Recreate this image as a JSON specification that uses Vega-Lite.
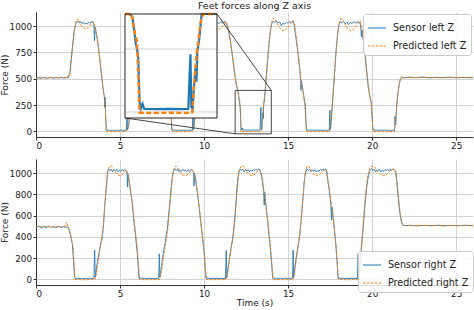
{
"$schema": "https://vega.github.io/schema/vega-lite/v6.json",
"padding": 0,
"background": "white",
"config": {
  "font": "DejaVu Sans",
  "view": {"stroke": null},
  "axis": {"labelFontSize": 8.8, "labelColor": "#222", "titleFontSize": 9, "titleFontWeight": "normal", "titleColor": "#222", "domainColor": "#333", "tickColor": "#333", "tickSize": 3, "gridColor": "#c8c8c8", "gridWidth": 0.8, "labelPadding": 1.5, "titlePadding": 0, "format": "d"},
  "legend": {"labelFontSize": 9.6, "labelColor": "#222", "symbolType": "stroke", "symbolSize": 324, "symbolStrokeWidth": 1.2, "fillColor": "rgba(255,255,255,0.85)", "strokeColor": "#cccccc", "cornerRadius": 3, "padding": 4, "rowPadding": 3, "labelOffset": 6, "title": null},
  "title": {"fontSize": 9.5, "fontWeight": "normal", "color": "#222"}
},
"datasets": {
"left": [
{"t":0.00,"f":503,"s":"Sensor left Z"},{"t":0.15,"f":510,"s":"Sensor left Z"},{"t":0.30,"f":506,"s":"Sensor left Z"},{"t":0.45,"f":513,"s":"Sensor left Z"},{"t":0.60,"f":504,"s":"Sensor left Z"},{"t":0.75,"f":509,"s":"Sensor left Z"},{"t":0.90,"f":512,"s":"Sensor left Z"},{"t":1.05,"f":505,"s":"Sensor left Z"},{"t":1.20,"f":511,"s":"Sensor left Z"},{"t":1.35,"f":507,"s":"Sensor left Z"},{"t":1.50,"f":514,"s":"Sensor left Z"},{"t":1.65,"f":506,"s":"Sensor left Z"},{"t":1.80,"f":510,"s":"Sensor left Z"},{"t":1.92,"f":512,"s":"Sensor left Z"},{"t":2.02,"f":560,"s":"Sensor left Z"},{"t":2.10,"f":690,"s":"Sensor left Z"},{"t":2.18,"f":820,"s":"Sensor left Z"},{"t":2.26,"f":940,"s":"Sensor left Z"},{"t":2.34,"f":1005,"s":"Sensor left Z"},{"t":2.42,"f":1040,"s":"Sensor left Z"},{"t":2.50,"f":1048,"s":"Sensor left Z"},{"t":2.58,"f":1030,"s":"Sensor left Z"},{"t":2.66,"f":1042,"s":"Sensor left Z"},{"t":2.74,"f":1025,"s":"Sensor left Z"},{"t":2.82,"f":1035,"s":"Sensor left Z"},{"t":2.90,"f":1018,"s":"Sensor left Z"},{"t":2.98,"f":1030,"s":"Sensor left Z"},{"t":3.06,"f":1022,"s":"Sensor left Z"},{"t":3.14,"f":1036,"s":"Sensor left Z"},{"t":3.22,"f":1028,"s":"Sensor left Z"},{"t":3.30,"f":1040,"s":"Sensor left Z"},{"t":3.38,"f":1045,"s":"Sensor left Z"},{"t":3.44,"f":1020,"s":"Sensor left Z"},{"t":3.48,"f":860,"s":"Sensor left Z"},{"t":3.52,"f":990,"s":"Sensor left Z"},{"t":3.56,"f":960,"s":"Sensor left Z"},{"t":3.64,"f":880,"s":"Sensor left Z"},{"t":3.74,"f":760,"s":"Sensor left Z"},{"t":3.84,"f":620,"s":"Sensor left Z"},{"t":3.94,"f":470,"s":"Sensor left Z"},{"t":4.02,"f":370,"s":"Sensor left Z"},{"t":4.07,"f":330,"s":"Sensor left Z"},{"t":4.09,"f":230,"s":"Sensor left Z"},{"t":4.11,"f":320,"s":"Sensor left Z"},{"t":4.14,"f":160,"s":"Sensor left Z"},{"t":4.18,"f":12,"s":"Sensor left Z"},{"t":4.40,"f":10,"s":"Sensor left Z"},{"t":4.70,"f":8,"s":"Sensor left Z"},{"t":5.00,"f":11,"s":"Sensor left Z"},{"t":5.30,"f":9,"s":"Sensor left Z"},{"t":5.38,"f":12,"s":"Sensor left Z"},{"t":5.42,"f":170,"s":"Sensor left Z"},{"t":5.45,"f":15,"s":"Sensor left Z"},{"t":5.52,"f":60,"s":"Sensor left Z"},{"t":5.58,"f":160,"s":"Sensor left Z"},{"t":5.64,"f":250,"s":"Sensor left Z"},{"t":5.72,"f":380,"s":"Sensor left Z"},{"t":5.82,"f":560,"s":"Sensor left Z"},{"t":5.92,"f":740,"s":"Sensor left Z"},{"t":6.02,"f":880,"s":"Sensor left Z"},{"t":6.12,"f":980,"s":"Sensor left Z"},{"t":6.22,"f":1030,"s":"Sensor left Z"},{"t":6.32,"f":1045,"s":"Sensor left Z"},{"t":6.42,"f":1025,"s":"Sensor left Z"},{"t":6.52,"f":1040,"s":"Sensor left Z"},{"t":6.62,"f":1020,"s":"Sensor left Z"},{"t":6.72,"f":1035,"s":"Sensor left Z"},{"t":6.82,"f":1015,"s":"Sensor left Z"},{"t":6.92,"f":1030,"s":"Sensor left Z"},{"t":7.02,"f":1025,"s":"Sensor left Z"},{"t":7.12,"f":1040,"s":"Sensor left Z"},{"t":7.22,"f":1030,"s":"Sensor left Z"},{"t":7.32,"f":1042,"s":"Sensor left Z"},{"t":7.38,"f":1010,"s":"Sensor left Z"},{"t":7.44,"f":900,"s":"Sensor left Z"},{"t":7.52,"f":960,"s":"Sensor left Z"},{"t":7.60,"f":830,"s":"Sensor left Z"},{"t":7.70,"f":680,"s":"Sensor left Z"},{"t":7.80,"f":520,"s":"Sensor left Z"},{"t":7.90,"f":380,"s":"Sensor left Z"},{"t":7.98,"f":300,"s":"Sensor left Z"},{"t":8.04,"f":160,"s":"Sensor left Z"},{"t":8.08,"f":12,"s":"Sensor left Z"},{"t":8.40,"f":10,"s":"Sensor left Z"},{"t":8.80,"f":9,"s":"Sensor left Z"},{"t":9.20,"f":11,"s":"Sensor left Z"},{"t":9.30,"f":10,"s":"Sensor left Z"},{"t":9.34,"f":190,"s":"Sensor left Z"},{"t":9.37,"f":14,"s":"Sensor left Z"},{"t":9.42,"f":80,"s":"Sensor left Z"},{"t":9.48,"f":150,"s":"Sensor left Z"},{"t":9.55,"f":250,"s":"Sensor left Z"},{"t":9.62,"f":330,"s":"Sensor left Z"},{"t":9.70,"f":480,"s":"Sensor left Z"},{"t":9.80,"f":660,"s":"Sensor left Z"},{"t":9.90,"f":840,"s":"Sensor left Z"},{"t":10.00,"f":960,"s":"Sensor left Z"},{"t":10.10,"f":1020,"s":"Sensor left Z"},{"t":10.20,"f":1045,"s":"Sensor left Z"},{"t":10.30,"f":1028,"s":"Sensor left Z"},{"t":10.40,"f":1040,"s":"Sensor left Z"},{"t":10.50,"f":1022,"s":"Sensor left Z"},{"t":10.60,"f":1036,"s":"Sensor left Z"},{"t":10.70,"f":1020,"s":"Sensor left Z"},{"t":10.80,"f":1032,"s":"Sensor left Z"},{"t":10.90,"f":1025,"s":"Sensor left Z"},{"t":11.00,"f":1040,"s":"Sensor left Z"},{"t":11.10,"f":1030,"s":"Sensor left Z"},{"t":11.20,"f":1045,"s":"Sensor left Z"},{"t":11.30,"f":1035,"s":"Sensor left Z"},{"t":11.38,"f":1000,"s":"Sensor left Z"},{"t":11.45,"f":960,"s":"Sensor left Z"},{"t":11.55,"f":870,"s":"Sensor left Z"},{"t":11.65,"f":760,"s":"Sensor left Z"},{"t":11.75,"f":640,"s":"Sensor left Z"},{"t":11.85,"f":510,"s":"Sensor left Z"},{"t":11.95,"f":420,"s":"Sensor left Z"},{"t":12.02,"f":380,"s":"Sensor left Z"},{"t":12.07,"f":320,"s":"Sensor left Z"},{"t":12.10,"f":275,"s":"Sensor left Z"},{"t":12.14,"f":240,"s":"Sensor left Z"},{"t":12.16,"f":215,"s":"Sensor left Z"},{"t":12.19,"f":40,"s":"Sensor left Z"},{"t":12.22,"f":14,"s":"Sensor left Z"},{"t":12.26,"f":32,"s":"Sensor left Z"},{"t":12.30,"f":12,"s":"Sensor left Z"},{"t":12.60,"f":11,"s":"Sensor left Z"},{"t":12.90,"f":12,"s":"Sensor left Z"},{"t":13.20,"f":11,"s":"Sensor left Z"},{"t":13.33,"f":12,"s":"Sensor left Z"},{"t":13.36,"f":150,"s":"Sensor left Z"},{"t":13.38,"f":229,"s":"Sensor left Z"},{"t":13.40,"f":20,"s":"Sensor left Z"},{"t":13.43,"f":12,"s":"Sensor left Z"},{"t":13.46,"f":96,"s":"Sensor left Z"},{"t":13.50,"f":176,"s":"Sensor left Z"},{"t":13.52,"f":120,"s":"Sensor left Z"},{"t":13.54,"f":242,"s":"Sensor left Z"},{"t":13.58,"f":282,"s":"Sensor left Z"},{"t":13.61,"f":334,"s":"Sensor left Z"},{"t":13.64,"f":390,"s":"Sensor left Z"},{"t":13.70,"f":520,"s":"Sensor left Z"},{"t":13.78,"f":680,"s":"Sensor left Z"},{"t":13.86,"f":830,"s":"Sensor left Z"},{"t":13.94,"f":950,"s":"Sensor left Z"},{"t":14.02,"f":1020,"s":"Sensor left Z"},{"t":14.10,"f":1045,"s":"Sensor left Z"},{"t":14.20,"f":1035,"s":"Sensor left Z"},{"t":14.30,"f":1048,"s":"Sensor left Z"},{"t":14.40,"f":1030,"s":"Sensor left Z"},{"t":14.50,"f":1040,"s":"Sensor left Z"},{"t":14.60,"f":1005,"s":"Sensor left Z"},{"t":14.70,"f":1030,"s":"Sensor left Z"},{"t":14.80,"f":1020,"s":"Sensor left Z"},{"t":14.90,"f":1035,"s":"Sensor left Z"},{"t":15.00,"f":1028,"s":"Sensor left Z"},{"t":15.10,"f":1042,"s":"Sensor left Z"},{"t":15.20,"f":1035,"s":"Sensor left Z"},{"t":15.30,"f":1045,"s":"Sensor left Z"},{"t":15.36,"f":1010,"s":"Sensor left Z"},{"t":15.42,"f":940,"s":"Sensor left Z"},{"t":15.50,"f":850,"s":"Sensor left Z"},{"t":15.60,"f":720,"s":"Sensor left Z"},{"t":15.70,"f":580,"s":"Sensor left Z"},{"t":15.75,"f":470,"s":"Sensor left Z"},{"t":15.77,"f":390,"s":"Sensor left Z"},{"t":15.79,"f":480,"s":"Sensor left Z"},{"t":15.85,"f":420,"s":"Sensor left Z"},{"t":15.95,"f":320,"s":"Sensor left Z"},{"t":16.02,"f":250,"s":"Sensor left Z"},{"t":16.06,"f":100,"s":"Sensor left Z"},{"t":16.09,"f":12,"s":"Sensor left Z"},{"t":16.40,"f":10,"s":"Sensor left Z"},{"t":16.80,"f":11,"s":"Sensor left Z"},{"t":17.20,"f":9,"s":"Sensor left Z"},{"t":17.45,"f":10,"s":"Sensor left Z"},{"t":17.49,"f":200,"s":"Sensor left Z"},{"t":17.52,"f":15,"s":"Sensor left Z"},{"t":17.57,"f":100,"s":"Sensor left Z"},{"t":17.63,"f":250,"s":"Sensor left Z"},{"t":17.70,"f":420,"s":"Sensor left Z"},{"t":17.78,"f":600,"s":"Sensor left Z"},{"t":17.86,"f":780,"s":"Sensor left Z"},{"t":17.94,"f":920,"s":"Sensor left Z"},{"t":18.02,"f":1010,"s":"Sensor left Z"},{"t":18.10,"f":1042,"s":"Sensor left Z"},{"t":18.20,"f":1030,"s":"Sensor left Z"},{"t":18.30,"f":1045,"s":"Sensor left Z"},{"t":18.40,"f":1022,"s":"Sensor left Z"},{"t":18.50,"f":1038,"s":"Sensor left Z"},{"t":18.60,"f":1015,"s":"Sensor left Z"},{"t":18.70,"f":1035,"s":"Sensor left Z"},{"t":18.80,"f":1025,"s":"Sensor left Z"},{"t":18.90,"f":1040,"s":"Sensor left Z"},{"t":19.00,"f":1030,"s":"Sensor left Z"},{"t":19.10,"f":1042,"s":"Sensor left Z"},{"t":19.20,"f":1035,"s":"Sensor left Z"},{"t":19.28,"f":1030,"s":"Sensor left Z"},{"t":19.33,"f":980,"s":"Sensor left Z"},{"t":19.36,"f":900,"s":"Sensor left Z"},{"t":19.40,"f":960,"s":"Sensor left Z"},{"t":19.48,"f":860,"s":"Sensor left Z"},{"t":19.58,"f":720,"s":"Sensor left Z"},{"t":19.68,"f":560,"s":"Sensor left Z"},{"t":19.78,"f":410,"s":"Sensor left Z"},{"t":19.88,"f":320,"s":"Sensor left Z"},{"t":19.95,"f":270,"s":"Sensor left Z"},{"t":20.00,"f":120,"s":"Sensor left Z"},{"t":20.05,"f":12,"s":"Sensor left Z"},{"t":20.40,"f":10,"s":"Sensor left Z"},{"t":20.80,"f":11,"s":"Sensor left Z"},{"t":21.20,"f":9,"s":"Sensor left Z"},{"t":21.33,"f":10,"s":"Sensor left Z"},{"t":21.36,"f":140,"s":"Sensor left Z"},{"t":21.40,"f":60,"s":"Sensor left Z"},{"t":21.45,"f":230,"s":"Sensor left Z"},{"t":21.52,"f":350,"s":"Sensor left Z"},{"t":21.60,"f":440,"s":"Sensor left Z"},{"t":21.68,"f":495,"s":"Sensor left Z"},{"t":21.76,"f":512,"s":"Sensor left Z"},{"t":21.90,"f":508,"s":"Sensor left Z"},{"t":22.20,"f":514,"s":"Sensor left Z"},{"t":22.60,"f":510,"s":"Sensor left Z"},{"t":23.00,"f":515,"s":"Sensor left Z"},{"t":23.40,"f":509,"s":"Sensor left Z"},{"t":23.80,"f":513,"s":"Sensor left Z"},{"t":24.20,"f":510,"s":"Sensor left Z"},{"t":24.60,"f":514,"s":"Sensor left Z"},{"t":25.00,"f":509,"s":"Sensor left Z"},{"t":25.40,"f":512,"s":"Sensor left Z"},{"t":25.80,"f":510,"s":"Sensor left Z"},{"t":26.00,"f":511,"s":"Sensor left Z"},
{"t":0.00,"f":505,"s":"Predicted left Z"},{"t":0.50,"f":508,"s":"Predicted left Z"},{"t":1.00,"f":510,"s":"Predicted left Z"},{"t":1.50,"f":509,"s":"Predicted left Z"},{"t":1.80,"f":512,"s":"Predicted left Z"},{"t":1.92,"f":530,"s":"Predicted left Z"},{"t":2.00,"f":520,"s":"Predicted left Z"},{"t":2.08,"f":650,"s":"Predicted left Z"},{"t":2.18,"f":800,"s":"Predicted left Z"},{"t":2.28,"f":950,"s":"Predicted left Z"},{"t":2.38,"f":1050,"s":"Predicted left Z"},{"t":2.48,"f":1070,"s":"Predicted left Z"},{"t":2.60,"f":1040,"s":"Predicted left Z"},{"t":2.75,"f":990,"s":"Predicted left Z"},{"t":2.90,"f":975,"s":"Predicted left Z"},{"t":3.05,"f":980,"s":"Predicted left Z"},{"t":3.20,"f":1000,"s":"Predicted left Z"},{"t":3.35,"f":1040,"s":"Predicted left Z"},{"t":3.45,"f":1030,"s":"Predicted left Z"},{"t":3.55,"f":960,"s":"Predicted left Z"},{"t":3.65,"f":880,"s":"Predicted left Z"},{"t":3.75,"f":760,"s":"Predicted left Z"},{"t":3.85,"f":620,"s":"Predicted left Z"},{"t":3.95,"f":470,"s":"Predicted left Z"},{"t":4.04,"f":350,"s":"Predicted left Z"},{"t":4.10,"f":280,"s":"Predicted left Z"},{"t":4.15,"f":120,"s":"Predicted left Z"},{"t":4.20,"f":-5,"s":"Predicted left Z"},{"t":4.60,"f":-3,"s":"Predicted left Z"},{"t":5.00,"f":-4,"s":"Predicted left Z"},{"t":5.35,"f":-3,"s":"Predicted left Z"},{"t":5.45,"f":40,"s":"Predicted left Z"},{"t":5.55,"f":130,"s":"Predicted left Z"},{"t":5.65,"f":260,"s":"Predicted left Z"},{"t":5.75,"f":420,"s":"Predicted left Z"},{"t":5.85,"f":600,"s":"Predicted left Z"},{"t":5.95,"f":780,"s":"Predicted left Z"},{"t":6.05,"f":920,"s":"Predicted left Z"},{"t":6.15,"f":1020,"s":"Predicted left Z"},{"t":6.25,"f":1065,"s":"Predicted left Z"},{"t":6.38,"f":1060,"s":"Predicted left Z"},{"t":6.55,"f":1000,"s":"Predicted left Z"},{"t":6.75,"f":965,"s":"Predicted left Z"},{"t":6.95,"f":975,"s":"Predicted left Z"},{"t":7.15,"f":1010,"s":"Predicted left Z"},{"t":7.30,"f":1045,"s":"Predicted left Z"},{"t":7.40,"f":1020,"s":"Predicted left Z"},{"t":7.50,"f":940,"s":"Predicted left Z"},{"t":7.60,"f":830,"s":"Predicted left Z"},{"t":7.70,"f":680,"s":"Predicted left Z"},{"t":7.80,"f":520,"s":"Predicted left Z"},{"t":7.90,"f":390,"s":"Predicted left Z"},{"t":7.98,"f":290,"s":"Predicted left Z"},{"t":8.05,"f":120,"s":"Predicted left Z"},{"t":8.10,"f":-4,"s":"Predicted left Z"},{"t":8.60,"f":-3,"s":"Predicted left Z"},{"t":9.00,"f":-4,"s":"Predicted left Z"},{"t":9.30,"f":-3,"s":"Predicted left Z"},{"t":9.40,"f":60,"s":"Predicted left Z"},{"t":9.50,"f":180,"s":"Predicted left Z"},{"t":9.60,"f":320,"s":"Predicted left Z"},{"t":9.70,"f":480,"s":"Predicted left Z"},{"t":9.80,"f":660,"s":"Predicted left Z"},{"t":9.90,"f":840,"s":"Predicted left Z"},{"t":10.00,"f":970,"s":"Predicted left Z"},{"t":10.10,"f":1050,"s":"Predicted left Z"},{"t":10.20,"f":1070,"s":"Predicted left Z"},{"t":10.35,"f":1040,"s":"Predicted left Z"},{"t":10.55,"f":990,"s":"Predicted left Z"},{"t":10.75,"f":960,"s":"Predicted left Z"},{"t":10.95,"f":975,"s":"Predicted left Z"},{"t":11.15,"f":1010,"s":"Predicted left Z"},{"t":11.30,"f":1045,"s":"Predicted left Z"},{"t":11.40,"f":1010,"s":"Predicted left Z"},{"t":11.50,"f":920,"s":"Predicted left Z"},{"t":11.60,"f":820,"s":"Predicted left Z"},{"t":11.70,"f":700,"s":"Predicted left Z"},{"t":11.80,"f":570,"s":"Predicted left Z"},{"t":11.90,"f":460,"s":"Predicted left Z"},{"t":12.00,"f":390,"s":"Predicted left Z"},{"t":12.06,"f":330,"s":"Predicted left Z"},{"t":12.10,"f":300,"s":"Predicted left Z"},{"t":12.13,"f":280,"s":"Predicted left Z"},{"t":12.16,"f":150,"s":"Predicted left Z"},{"t":12.19,"f":-3,"s":"Predicted left Z"},{"t":12.50,"f":-4,"s":"Predicted left Z"},{"t":12.90,"f":-3,"s":"Predicted left Z"},{"t":13.30,"f":-4,"s":"Predicted left Z"},{"t":13.42,"f":-2,"s":"Predicted left Z"},{"t":13.47,"f":120,"s":"Predicted left Z"},{"t":13.52,"f":230,"s":"Predicted left Z"},{"t":13.57,"f":290,"s":"Predicted left Z"},{"t":13.62,"f":360,"s":"Predicted left Z"},{"t":13.68,"f":470,"s":"Predicted left Z"},{"t":13.76,"f":640,"s":"Predicted left Z"},{"t":13.86,"f":820,"s":"Predicted left Z"},{"t":13.96,"f":980,"s":"Predicted left Z"},{"t":14.06,"f":1060,"s":"Predicted left Z"},{"t":14.16,"f":1075,"s":"Predicted left Z"},{"t":14.30,"f":1040,"s":"Predicted left Z"},{"t":14.50,"f":985,"s":"Predicted left Z"},{"t":14.70,"f":955,"s":"Predicted left Z"},{"t":14.90,"f":970,"s":"Predicted left Z"},{"t":15.10,"f":1010,"s":"Predicted left Z"},{"t":15.28,"f":1055,"s":"Predicted left Z"},{"t":15.38,"f":1020,"s":"Predicted left Z"},{"t":15.48,"f":910,"s":"Predicted left Z"},{"t":15.58,"f":780,"s":"Predicted left Z"},{"t":15.68,"f":620,"s":"Predicted left Z"},{"t":15.78,"f":480,"s":"Predicted left Z"},{"t":15.88,"f":370,"s":"Predicted left Z"},{"t":15.98,"f":270,"s":"Predicted left Z"},{"t":16.05,"f":110,"s":"Predicted left Z"},{"t":16.10,"f":-4,"s":"Predicted left Z"},{"t":16.60,"f":-3,"s":"Predicted left Z"},{"t":17.00,"f":-4,"s":"Predicted left Z"},{"t":17.45,"f":-3,"s":"Predicted left Z"},{"t":17.55,"f":110,"s":"Predicted left Z"},{"t":17.65,"f":280,"s":"Predicted left Z"},{"t":17.75,"f":520,"s":"Predicted left Z"},{"t":17.85,"f":740,"s":"Predicted left Z"},{"t":17.95,"f":920,"s":"Predicted left Z"},{"t":18.05,"f":1040,"s":"Predicted left Z"},{"t":18.15,"f":1075,"s":"Predicted left Z"},{"t":18.30,"f":1045,"s":"Predicted left Z"},{"t":18.50,"f":985,"s":"Predicted left Z"},{"t":18.70,"f":955,"s":"Predicted left Z"},{"t":18.90,"f":970,"s":"Predicted left Z"},{"t":19.10,"f":1015,"s":"Predicted left Z"},{"t":19.28,"f":1050,"s":"Predicted left Z"},{"t":19.38,"f":980,"s":"Predicted left Z"},{"t":19.48,"f":870,"s":"Predicted left Z"},{"t":19.58,"f":730,"s":"Predicted left Z"},{"t":19.68,"f":570,"s":"Predicted left Z"},{"t":19.78,"f":420,"s":"Predicted left Z"},{"t":19.88,"f":310,"s":"Predicted left Z"},{"t":19.96,"f":240,"s":"Predicted left Z"},{"t":20.02,"f":80,"s":"Predicted left Z"},{"t":20.07,"f":-4,"s":"Predicted left Z"},{"t":20.60,"f":-3,"s":"Predicted left Z"},{"t":21.00,"f":-4,"s":"Predicted left Z"},{"t":21.33,"f":-3,"s":"Predicted left Z"},{"t":21.42,"f":150,"s":"Predicted left Z"},{"t":21.52,"f":330,"s":"Predicted left Z"},{"t":21.62,"f":450,"s":"Predicted left Z"},{"t":21.72,"f":520,"s":"Predicted left Z"},{"t":21.82,"f":512,"s":"Predicted left Z"},{"t":22.20,"f":510,"s":"Predicted left Z"},{"t":23.00,"f":512,"s":"Predicted left Z"},{"t":24.00,"f":510,"s":"Predicted left Z"},{"t":25.00,"f":511,"s":"Predicted left Z"},{"t":26.00,"f":510,"s":"Predicted left Z"}
],
"right": [
{"t":0.00,"f":492,"s":"Sensor right Z"},{"t":0.15,"f":500,"s":"Sensor right Z"},{"t":0.30,"f":486,"s":"Sensor right Z"},{"t":0.45,"f":497,"s":"Sensor right Z"},{"t":0.60,"f":489,"s":"Sensor right Z"},{"t":0.75,"f":501,"s":"Sensor right Z"},{"t":0.90,"f":490,"s":"Sensor right Z"},{"t":1.05,"f":496,"s":"Sensor right Z"},{"t":1.20,"f":487,"s":"Sensor right Z"},{"t":1.35,"f":498,"s":"Sensor right Z"},{"t":1.50,"f":491,"s":"Sensor right Z"},{"t":1.65,"f":496,"s":"Sensor right Z"},{"t":1.80,"f":489,"s":"Sensor right Z"},{"t":1.90,"f":492,"s":"Sensor right Z"},{"t":1.98,"f":462,"s":"Sensor right Z"},{"t":2.06,"f":420,"s":"Sensor right Z"},{"t":2.12,"f":360,"s":"Sensor right Z"},{"t":2.16,"f":337,"s":"Sensor right Z"},{"t":2.20,"f":250,"s":"Sensor right Z"},{"t":2.25,"f":130,"s":"Sensor right Z"},{"t":2.30,"f":15,"s":"Sensor right Z"},{"t":2.34,"f":8,"s":"Sensor right Z"},{"t":2.70,"f":7,"s":"Sensor right Z"},{"t":3.10,"f":9,"s":"Sensor right Z"},{"t":3.45,"f":8,"s":"Sensor right Z"},{"t":3.49,"f":275,"s":"Sensor right Z"},{"t":3.52,"f":20,"s":"Sensor right Z"},{"t":3.58,"f":80,"s":"Sensor right Z"},{"t":3.66,"f":170,"s":"Sensor right Z"},{"t":3.75,"f":244,"s":"Sensor right Z"},{"t":3.85,"f":330,"s":"Sensor right Z"},{"t":3.95,"f":400,"s":"Sensor right Z"},{"t":4.02,"f":520,"s":"Sensor right Z"},{"t":4.10,"f":712,"s":"Sensor right Z"},{"t":4.19,"f":869,"s":"Sensor right Z"},{"t":4.25,"f":1009,"s":"Sensor right Z"},{"t":4.32,"f":1040,"s":"Sensor right Z"},{"t":4.40,"f":1025,"s":"Sensor right Z"},{"t":4.48,"f":1038,"s":"Sensor right Z"},{"t":4.56,"f":1015,"s":"Sensor right Z"},{"t":4.64,"f":1032,"s":"Sensor right Z"},{"t":4.72,"f":1020,"s":"Sensor right Z"},{"t":4.80,"f":1035,"s":"Sensor right Z"},{"t":4.88,"f":1012,"s":"Sensor right Z"},{"t":4.96,"f":1028,"s":"Sensor right Z"},{"t":5.04,"f":1018,"s":"Sensor right Z"},{"t":5.12,"f":1034,"s":"Sensor right Z"},{"t":5.20,"f":1022,"s":"Sensor right Z"},{"t":5.28,"f":1036,"s":"Sensor right Z"},{"t":5.36,"f":1025,"s":"Sensor right Z"},{"t":5.42,"f":1000,"s":"Sensor right Z"},{"t":5.45,"f":870,"s":"Sensor right Z"},{"t":5.48,"f":990,"s":"Sensor right Z"},{"t":5.54,"f":930,"s":"Sensor right Z"},{"t":5.64,"f":810,"s":"Sensor right Z"},{"t":5.73,"f":712,"s":"Sensor right Z"},{"t":5.83,"f":540,"s":"Sensor right Z"},{"t":5.93,"f":400,"s":"Sensor right Z"},{"t":6.03,"f":244,"s":"Sensor right Z"},{"t":6.08,"f":130,"s":"Sensor right Z"},{"t":6.13,"f":10,"s":"Sensor right Z"},{"t":6.50,"f":8,"s":"Sensor right Z"},{"t":6.90,"f":9,"s":"Sensor right Z"},{"t":7.30,"f":8,"s":"Sensor right Z"},{"t":7.34,"f":240,"s":"Sensor right Z"},{"t":7.37,"f":18,"s":"Sensor right Z"},{"t":7.44,"f":90,"s":"Sensor right Z"},{"t":7.52,"f":190,"s":"Sensor right Z"},{"t":7.62,"f":290,"s":"Sensor right Z"},{"t":7.72,"f":380,"s":"Sensor right Z"},{"t":7.82,"f":480,"s":"Sensor right Z"},{"t":7.92,"f":650,"s":"Sensor right Z"},{"t":8.02,"f":820,"s":"Sensor right Z"},{"t":8.10,"f":950,"s":"Sensor right Z"},{"t":8.18,"f":1020,"s":"Sensor right Z"},{"t":8.26,"f":1042,"s":"Sensor right Z"},{"t":8.34,"f":1025,"s":"Sensor right Z"},{"t":8.42,"f":1038,"s":"Sensor right Z"},{"t":8.50,"f":1015,"s":"Sensor right Z"},{"t":8.58,"f":1030,"s":"Sensor right Z"},{"t":8.66,"f":1018,"s":"Sensor right Z"},{"t":8.74,"f":1035,"s":"Sensor right Z"},{"t":8.82,"f":1020,"s":"Sensor right Z"},{"t":8.90,"f":1030,"s":"Sensor right Z"},{"t":8.98,"f":1015,"s":"Sensor right Z"},{"t":9.06,"f":1032,"s":"Sensor right Z"},{"t":9.14,"f":1022,"s":"Sensor right Z"},{"t":9.22,"f":1036,"s":"Sensor right Z"},{"t":9.30,"f":1028,"s":"Sensor right Z"},{"t":9.37,"f":1010,"s":"Sensor right Z"},{"t":9.40,"f":880,"s":"Sensor right Z"},{"t":9.44,"f":990,"s":"Sensor right Z"},{"t":9.50,"f":940,"s":"Sensor right Z"},{"t":9.60,"f":820,"s":"Sensor right Z"},{"t":9.70,"f":690,"s":"Sensor right Z"},{"t":9.80,"f":540,"s":"Sensor right Z"},{"t":9.90,"f":400,"s":"Sensor right Z"},{"t":10.00,"f":260,"s":"Sensor right Z"},{"t":10.06,"f":130,"s":"Sensor right Z"},{"t":10.11,"f":10,"s":"Sensor right Z"},{"t":10.50,"f":8,"s":"Sensor right Z"},{"t":10.90,"f":9,"s":"Sensor right Z"},{"t":11.28,"f":8,"s":"Sensor right Z"},{"t":11.32,"f":270,"s":"Sensor right Z"},{"t":11.35,"f":18,"s":"Sensor right Z"},{"t":11.42,"f":100,"s":"Sensor right Z"},{"t":11.50,"f":190,"s":"Sensor right Z"},{"t":11.60,"f":290,"s":"Sensor right Z"},{"t":11.70,"f":380,"s":"Sensor right Z"},{"t":11.80,"f":520,"s":"Sensor right Z"},{"t":11.90,"f":720,"s":"Sensor right Z"},{"t":11.98,"f":900,"s":"Sensor right Z"},{"t":12.06,"f":1010,"s":"Sensor right Z"},{"t":12.14,"f":1040,"s":"Sensor right Z"},{"t":12.22,"f":1025,"s":"Sensor right Z"},{"t":12.30,"f":1038,"s":"Sensor right Z"},{"t":12.38,"f":1012,"s":"Sensor right Z"},{"t":12.46,"f":1030,"s":"Sensor right Z"},{"t":12.54,"f":1020,"s":"Sensor right Z"},{"t":12.62,"f":1034,"s":"Sensor right Z"},{"t":12.70,"f":1015,"s":"Sensor right Z"},{"t":12.78,"f":1030,"s":"Sensor right Z"},{"t":12.86,"f":1020,"s":"Sensor right Z"},{"t":12.94,"f":1035,"s":"Sensor right Z"},{"t":13.02,"f":1025,"s":"Sensor right Z"},{"t":13.10,"f":1038,"s":"Sensor right Z"},{"t":13.18,"f":1028,"s":"Sensor right Z"},{"t":13.26,"f":1040,"s":"Sensor right Z"},{"t":13.34,"f":1030,"s":"Sensor right Z"},{"t":13.40,"f":990,"s":"Sensor right Z"},{"t":13.46,"f":940,"s":"Sensor right Z"},{"t":13.55,"f":830,"s":"Sensor right Z"},{"t":13.58,"f":700,"s":"Sensor right Z"},{"t":13.61,"f":820,"s":"Sensor right Z"},{"t":13.68,"f":700,"s":"Sensor right Z"},{"t":13.78,"f":560,"s":"Sensor right Z"},{"t":13.86,"f":420,"s":"Sensor right Z"},{"t":13.94,"f":300,"s":"Sensor right Z"},{"t":14.02,"f":150,"s":"Sensor right Z"},{"t":14.08,"f":10,"s":"Sensor right Z"},{"t":14.50,"f":8,"s":"Sensor right Z"},{"t":14.90,"f":9,"s":"Sensor right Z"},{"t":15.26,"f":8,"s":"Sensor right Z"},{"t":15.30,"f":275,"s":"Sensor right Z"},{"t":15.33,"f":18,"s":"Sensor right Z"},{"t":15.40,"f":100,"s":"Sensor right Z"},{"t":15.48,"f":200,"s":"Sensor right Z"},{"t":15.58,"f":300,"s":"Sensor right Z"},{"t":15.68,"f":400,"s":"Sensor right Z"},{"t":15.78,"f":560,"s":"Sensor right Z"},{"t":15.88,"f":760,"s":"Sensor right Z"},{"t":15.96,"f":920,"s":"Sensor right Z"},{"t":16.04,"f":1010,"s":"Sensor right Z"},{"t":16.12,"f":1042,"s":"Sensor right Z"},{"t":16.20,"f":1025,"s":"Sensor right Z"},{"t":16.28,"f":1036,"s":"Sensor right Z"},{"t":16.36,"f":1015,"s":"Sensor right Z"},{"t":16.44,"f":1030,"s":"Sensor right Z"},{"t":16.52,"f":1018,"s":"Sensor right Z"},{"t":16.60,"f":1034,"s":"Sensor right Z"},{"t":16.68,"f":1012,"s":"Sensor right Z"},{"t":16.76,"f":1028,"s":"Sensor right Z"},{"t":16.84,"f":1020,"s":"Sensor right Z"},{"t":16.92,"f":1035,"s":"Sensor right Z"},{"t":17.00,"f":1025,"s":"Sensor right Z"},{"t":17.08,"f":1038,"s":"Sensor right Z"},{"t":17.16,"f":1028,"s":"Sensor right Z"},{"t":17.24,"f":1040,"s":"Sensor right Z"},{"t":17.30,"f":1020,"s":"Sensor right Z"},{"t":17.36,"f":930,"s":"Sensor right Z"},{"t":17.44,"f":850,"s":"Sensor right Z"},{"t":17.54,"f":720,"s":"Sensor right Z"},{"t":17.58,"f":560,"s":"Sensor right Z"},{"t":17.62,"f":680,"s":"Sensor right Z"},{"t":17.70,"f":560,"s":"Sensor right Z"},{"t":17.78,"f":420,"s":"Sensor right Z"},{"t":17.86,"f":290,"s":"Sensor right Z"},{"t":17.92,"f":150,"s":"Sensor right Z"},{"t":17.97,"f":10,"s":"Sensor right Z"},{"t":18.40,"f":8,"s":"Sensor right Z"},{"t":18.80,"f":9,"s":"Sensor right Z"},{"t":19.13,"f":8,"s":"Sensor right Z"},{"t":19.17,"f":240,"s":"Sensor right Z"},{"t":19.20,"f":20,"s":"Sensor right Z"},{"t":19.28,"f":150,"s":"Sensor right Z"},{"t":19.38,"f":330,"s":"Sensor right Z"},{"t":19.48,"f":520,"s":"Sensor right Z"},{"t":19.58,"f":720,"s":"Sensor right Z"},{"t":19.68,"f":880,"s":"Sensor right Z"},{"t":19.78,"f":980,"s":"Sensor right Z"},{"t":19.88,"f":1030,"s":"Sensor right Z"},{"t":19.96,"f":1042,"s":"Sensor right Z"},{"t":20.04,"f":1025,"s":"Sensor right Z"},{"t":20.12,"f":1038,"s":"Sensor right Z"},{"t":20.20,"f":1015,"s":"Sensor right Z"},{"t":20.28,"f":1032,"s":"Sensor right Z"},{"t":20.36,"f":1020,"s":"Sensor right Z"},{"t":20.44,"f":1035,"s":"Sensor right Z"},{"t":20.52,"f":1012,"s":"Sensor right Z"},{"t":20.60,"f":1030,"s":"Sensor right Z"},{"t":20.68,"f":1018,"s":"Sensor right Z"},{"t":20.76,"f":1034,"s":"Sensor right Z"},{"t":20.84,"f":1022,"s":"Sensor right Z"},{"t":20.92,"f":1036,"s":"Sensor right Z"},{"t":21.00,"f":1025,"s":"Sensor right Z"},{"t":21.08,"f":1038,"s":"Sensor right Z"},{"t":21.16,"f":1028,"s":"Sensor right Z"},{"t":21.24,"f":1040,"s":"Sensor right Z"},{"t":21.32,"f":1030,"s":"Sensor right Z"},{"t":21.40,"f":1015,"s":"Sensor right Z"},{"t":21.48,"f":900,"s":"Sensor right Z"},{"t":21.56,"f":760,"s":"Sensor right Z"},{"t":21.64,"f":640,"s":"Sensor right Z"},{"t":21.72,"f":560,"s":"Sensor right Z"},{"t":21.80,"f":512,"s":"Sensor right Z"},{"t":21.90,"f":506,"s":"Sensor right Z"},{"t":22.30,"f":509,"s":"Sensor right Z"},{"t":22.70,"f":504,"s":"Sensor right Z"},{"t":23.10,"f":508,"s":"Sensor right Z"},{"t":23.50,"f":505,"s":"Sensor right Z"},{"t":23.90,"f":509,"s":"Sensor right Z"},{"t":24.30,"f":504,"s":"Sensor right Z"},{"t":24.70,"f":508,"s":"Sensor right Z"},{"t":25.10,"f":505,"s":"Sensor right Z"},{"t":25.50,"f":509,"s":"Sensor right Z"},{"t":26.00,"f":506,"s":"Sensor right Z"},
{"t":0.00,"f":495,"s":"Predicted right Z"},{"t":0.50,"f":497,"s":"Predicted right Z"},{"t":1.00,"f":494,"s":"Predicted right Z"},{"t":1.50,"f":496,"s":"Predicted right Z"},{"t":1.75,"f":500,"s":"Predicted right Z"},{"t":1.82,"f":540,"s":"Predicted right Z"},{"t":1.90,"f":500,"s":"Predicted right Z"},{"t":2.00,"f":450,"s":"Predicted right Z"},{"t":2.10,"f":390,"s":"Predicted right Z"},{"t":2.16,"f":345,"s":"Predicted right Z"},{"t":2.22,"f":300,"s":"Predicted right Z"},{"t":2.26,"f":150,"s":"Predicted right Z"},{"t":2.32,"f":-3,"s":"Predicted right Z"},{"t":2.80,"f":-4,"s":"Predicted right Z"},{"t":3.20,"f":-3,"s":"Predicted right Z"},{"t":3.50,"f":-4,"s":"Predicted right Z"},{"t":3.58,"f":40,"s":"Predicted right Z"},{"t":3.68,"f":150,"s":"Predicted right Z"},{"t":3.78,"f":260,"s":"Predicted right Z"},{"t":3.88,"f":360,"s":"Predicted right Z"},{"t":3.98,"f":470,"s":"Predicted right Z"},{"t":4.08,"f":680,"s":"Predicted right Z"},{"t":4.18,"f":880,"s":"Predicted right Z"},{"t":4.28,"f":1020,"s":"Predicted right Z"},{"t":4.38,"f":1065,"s":"Predicted right Z"},{"t":4.48,"f":1070,"s":"Predicted right Z"},{"t":4.60,"f":1040,"s":"Predicted right Z"},{"t":4.80,"f":990,"s":"Predicted right Z"},{"t":5.00,"f":975,"s":"Predicted right Z"},{"t":5.20,"f":995,"s":"Predicted right Z"},{"t":5.35,"f":1030,"s":"Predicted right Z"},{"t":5.45,"f":1010,"s":"Predicted right Z"},{"t":5.55,"f":930,"s":"Predicted right Z"},{"t":5.65,"f":820,"s":"Predicted right Z"},{"t":5.75,"f":700,"s":"Predicted right Z"},{"t":5.85,"f":540,"s":"Predicted right Z"},{"t":5.95,"f":400,"s":"Predicted right Z"},{"t":6.04,"f":260,"s":"Predicted right Z"},{"t":6.10,"f":120,"s":"Predicted right Z"},{"t":6.16,"f":-3,"s":"Predicted right Z"},{"t":6.60,"f":-4,"s":"Predicted right Z"},{"t":7.00,"f":-3,"s":"Predicted right Z"},{"t":7.35,"f":-4,"s":"Predicted right Z"},{"t":7.45,"f":60,"s":"Predicted right Z"},{"t":7.55,"f":170,"s":"Predicted right Z"},{"t":7.65,"f":270,"s":"Predicted right Z"},{"t":7.75,"f":370,"s":"Predicted right Z"},{"t":7.85,"f":490,"s":"Predicted right Z"},{"t":7.95,"f":680,"s":"Predicted right Z"},{"t":8.05,"f":860,"s":"Predicted right Z"},{"t":8.15,"f":1010,"s":"Predicted right Z"},{"t":8.25,"f":1060,"s":"Predicted right Z"},{"t":8.35,"f":1068,"s":"Predicted right Z"},{"t":8.50,"f":1035,"s":"Predicted right Z"},{"t":8.70,"f":985,"s":"Predicted right Z"},{"t":8.90,"f":975,"s":"Predicted right Z"},{"t":9.10,"f":1000,"s":"Predicted right Z"},{"t":9.28,"f":1035,"s":"Predicted right Z"},{"t":9.40,"f":1005,"s":"Predicted right Z"},{"t":9.50,"f":940,"s":"Predicted right Z"},{"t":9.60,"f":830,"s":"Predicted right Z"},{"t":9.70,"f":700,"s":"Predicted right Z"},{"t":9.80,"f":550,"s":"Predicted right Z"},{"t":9.90,"f":410,"s":"Predicted right Z"},{"t":10.00,"f":270,"s":"Predicted right Z"},{"t":10.07,"f":120,"s":"Predicted right Z"},{"t":10.13,"f":-3,"s":"Predicted right Z"},{"t":10.60,"f":-4,"s":"Predicted right Z"},{"t":11.00,"f":-3,"s":"Predicted right Z"},{"t":11.30,"f":-4,"s":"Predicted right Z"},{"t":11.40,"f":50,"s":"Predicted right Z"},{"t":11.50,"f":170,"s":"Predicted right Z"},{"t":11.60,"f":280,"s":"Predicted right Z"},{"t":11.70,"f":380,"s":"Predicted right Z"},{"t":11.80,"f":510,"s":"Predicted right Z"},{"t":11.90,"f":720,"s":"Predicted right Z"},{"t":12.00,"f":900,"s":"Predicted right Z"},{"t":12.10,"f":1030,"s":"Predicted right Z"},{"t":12.20,"f":1065,"s":"Predicted right Z"},{"t":12.30,"f":1072,"s":"Predicted right Z"},{"t":12.45,"f":1040,"s":"Predicted right Z"},{"t":12.65,"f":990,"s":"Predicted right Z"},{"t":12.85,"f":975,"s":"Predicted right Z"},{"t":13.05,"f":995,"s":"Predicted right Z"},{"t":13.25,"f":1035,"s":"Predicted right Z"},{"t":13.38,"f":1010,"s":"Predicted right Z"},{"t":13.48,"f":930,"s":"Predicted right Z"},{"t":13.58,"f":810,"s":"Predicted right Z"},{"t":13.68,"f":690,"s":"Predicted right Z"},{"t":13.78,"f":560,"s":"Predicted right Z"},{"t":13.88,"f":430,"s":"Predicted right Z"},{"t":13.96,"f":290,"s":"Predicted right Z"},{"t":14.04,"f":140,"s":"Predicted right Z"},{"t":14.10,"f":-3,"s":"Predicted right Z"},{"t":14.60,"f":-4,"s":"Predicted right Z"},{"t":15.00,"f":-3,"s":"Predicted right Z"},{"t":15.28,"f":-4,"s":"Predicted right Z"},{"t":15.38,"f":60,"s":"Predicted right Z"},{"t":15.48,"f":190,"s":"Predicted right Z"},{"t":15.58,"f":300,"s":"Predicted right Z"},{"t":15.68,"f":410,"s":"Predicted right Z"},{"t":15.78,"f":570,"s":"Predicted right Z"},{"t":15.88,"f":770,"s":"Predicted right Z"},{"t":15.98,"f":950,"s":"Predicted right Z"},{"t":16.08,"f":1050,"s":"Predicted right Z"},{"t":16.18,"f":1072,"s":"Predicted right Z"},{"t":16.32,"f":1045,"s":"Predicted right Z"},{"t":16.52,"f":990,"s":"Predicted right Z"},{"t":16.72,"f":975,"s":"Predicted right Z"},{"t":16.92,"f":995,"s":"Predicted right Z"},{"t":17.12,"f":1030,"s":"Predicted right Z"},{"t":17.28,"f":1020,"s":"Predicted right Z"},{"t":17.38,"f":920,"s":"Predicted right Z"},{"t":17.48,"f":820,"s":"Predicted right Z"},{"t":17.58,"f":680,"s":"Predicted right Z"},{"t":17.68,"f":560,"s":"Predicted right Z"},{"t":17.78,"f":430,"s":"Predicted right Z"},{"t":17.86,"f":290,"s":"Predicted right Z"},{"t":17.93,"f":140,"s":"Predicted right Z"},{"t":17.99,"f":-3,"s":"Predicted right Z"},{"t":18.50,"f":-4,"s":"Predicted right Z"},{"t":18.90,"f":-3,"s":"Predicted right Z"},{"t":19.15,"f":-4,"s":"Predicted right Z"},{"t":19.25,"f":100,"s":"Predicted right Z"},{"t":19.35,"f":290,"s":"Predicted right Z"},{"t":19.45,"f":480,"s":"Predicted right Z"},{"t":19.55,"f":690,"s":"Predicted right Z"},{"t":19.65,"f":860,"s":"Predicted right Z"},{"t":19.75,"f":990,"s":"Predicted right Z"},{"t":19.85,"f":1045,"s":"Predicted right Z"},{"t":19.98,"f":1068,"s":"Predicted right Z"},{"t":20.15,"f":1060,"s":"Predicted right Z"},{"t":20.30,"f":1020,"s":"Predicted right Z"},{"t":20.50,"f":985,"s":"Predicted right Z"},{"t":20.70,"f":975,"s":"Predicted right Z"},{"t":20.90,"f":995,"s":"Predicted right Z"},{"t":21.10,"f":1030,"s":"Predicted right Z"},{"t":21.30,"f":1040,"s":"Predicted right Z"},{"t":21.42,"f":1000,"s":"Predicted right Z"},{"t":21.50,"f":880,"s":"Predicted right Z"},{"t":21.58,"f":750,"s":"Predicted right Z"},{"t":21.66,"f":630,"s":"Predicted right Z"},{"t":21.74,"f":545,"s":"Predicted right Z"},{"t":21.82,"f":515,"s":"Predicted right Z"},{"t":22.00,"f":505,"s":"Predicted right Z"},{"t":23.00,"f":507,"s":"Predicted right Z"},{"t":24.00,"f":505,"s":"Predicted right Z"},{"t":25.00,"f":506,"s":"Predicted right Z"},{"t":26.00,"f":505,"s":"Predicted right Z"}
]
},
"spacing": 8,
"resolve": {"scale": {"color": "independent", "strokeDash": "independent"}, "legend": {"color": "independent", "strokeDash": "independent"}},
"vconcat": [
{
  "width": 437, "height": 125,
  "title": {"text": "Feet forces along Z axis", "offset": -1, "frame": "group", "anchor": "middle"},
  "data": {"name": "left"},
  "resolve": {"scale": {"x": "independent", "y": "independent"}},
  "layer": [
    {
      "mark": {"type": "line", "strokeWidth": 1},
      "encoding": {
        "x": {"field": "t", "type": "quantitative", "scale": {"domain": [0, 26], "nice": false, "zero": false}, "axis": {"values": [0, 5, 10, 15, 20, 25], "title": null}},
        "y": {"field": "f", "type": "quantitative", "scale": {"domain": [-54, 1134], "nice": false, "zero": false}, "axis": {"values": [0, 250, 500, 750, 1000], "title": "Force (N)"}},
        "color": {"field": "s", "type": "nominal", "scale": {"domain": ["Sensor left Z", "Predicted left Z"], "range": ["#1f77b4", "#ff7f0e"]}, "legend": {"orient": "none", "legendX": 327, "legendY": 2}},
        "strokeDash": {"field": "s", "type": "nominal", "scale": {"domain": ["Sensor left Z", "Predicted left Z"], "range": [[1, 0], [2.5, 1.5]]}, "legend": {"orient": "none", "legendX": 327, "legendY": 2}}
      }
    },
    {
      "data": {"values": [{}]},
      "mark": {"type": "rect", "filled": false, "stroke": "#333", "strokeWidth": 0.9},
      "encoding": {
        "x": {"datum": 11.85, "type": "quantitative", "scale": {"domain": [0, 26], "nice": false, "zero": false}, "axis": null},
        "x2": {"datum": 14.0},
        "y": {"datum": -24, "type": "quantitative", "scale": {"domain": [-54, 1134], "nice": false, "zero": false}, "axis": null},
        "y2": {"datum": 389}
      }
    },
    {
      "data": {"values": [{}]},
      "mark": {"type": "rule", "color": "#333", "strokeWidth": 0.9},
      "encoding": {
        "x": {"datum": 10.774, "type": "quantitative", "scale": {"domain": [0, 26], "nice": false, "zero": false}, "axis": null},
        "x2": {"datum": 14.0},
        "y": {"datum": 1115, "type": "quantitative", "scale": {"domain": [-54, 1134], "nice": false, "zero": false}, "axis": null},
        "y2": {"datum": 389}
      }
    },
    {
      "data": {"values": [{}]},
      "mark": {"type": "rule", "color": "#333", "strokeWidth": 0.9},
      "encoding": {
        "x": {"datum": 5.298, "type": "quantitative", "scale": {"domain": [0, 26], "nice": false, "zero": false}, "axis": null},
        "x2": {"datum": 11.85},
        "y": {"datum": 126.6, "type": "quantitative", "scale": {"domain": [-54, 1134], "nice": false, "zero": false}, "axis": null},
        "y2": {"datum": -24}
      }
    },
    {
      "data": {"values": [{}]},
      "mark": {"type": "rect", "fill": "white", "strokeWidth": 0},
      "encoding": {
        "x": {"datum": 11.85, "type": "quantitative", "scale": {"domain": [11.85, 14.0], "range": [89, 181], "nice": false, "zero": false, "clamp": true}, "axis": null},
        "x2": {"datum": 14.0},
        "y": {"datum": -24, "type": "quantitative", "scale": {"domain": [-24, 389], "range": [106, 2], "nice": false, "zero": false, "clamp": true}, "axis": null},
        "y2": {"datum": 389}
      }
    },
    {
      "data": {"values": [{"level": 0}, {"level": 250}]},
      "mark": {"type": "rule", "color": "#c8c8c8", "strokeWidth": 0.8},
      "encoding": {
        "x": {"datum": 11.85, "type": "quantitative", "scale": {"domain": [11.85, 14.0], "range": [89, 181], "nice": false, "zero": false, "clamp": true}, "axis": null},
        "x2": {"datum": 14.0},
        "y": {"field": "level", "type": "quantitative", "scale": {"domain": [-24, 389], "range": [106, 2], "nice": false, "zero": false, "clamp": true}, "axis": null}
      }
    },
    {
      "transform": [{"filter": "datum.s === 'Sensor left Z' && datum.t >= 11.7 && datum.t <= 14.1"}],
      "mark": {"type": "line", "color": "#1f77b4", "strokeWidth": 2.2},
      "encoding": {
        "x": {"field": "t", "type": "quantitative", "scale": {"domain": [11.85, 14.0], "range": [89, 181], "nice": false, "zero": false, "clamp": true}, "axis": null},
        "y": {"field": "f", "type": "quantitative", "scale": {"domain": [-24, 389], "range": [106, 2], "nice": false, "zero": false, "clamp": true}, "axis": null}
      }
    },
    {
      "transform": [{"filter": "datum.s === 'Predicted left Z' && datum.t >= 11.7 && datum.t <= 14.1"}],
      "mark": {"type": "line", "color": "#ff7f0e", "strokeWidth": 2.4, "strokeDash": [5, 2.5]},
      "encoding": {
        "x": {"field": "t", "type": "quantitative", "scale": {"domain": [11.85, 14.0], "range": [89, 181], "nice": false, "zero": false, "clamp": true}, "axis": null},
        "y": {"field": "f", "type": "quantitative", "scale": {"domain": [-24, 389], "range": [106, 2], "nice": false, "zero": false, "clamp": true}, "axis": null}
      }
    },
    {
      "data": {"values": [{}]},
      "mark": {"type": "rect", "filled": false, "stroke": "#222", "strokeWidth": 1},
      "encoding": {
        "x": {"datum": 11.85, "type": "quantitative", "scale": {"domain": [11.85, 14.0], "range": [89, 181], "nice": false, "zero": false, "clamp": true}, "axis": null},
        "x2": {"datum": 14.0},
        "y": {"datum": -24, "type": "quantitative", "scale": {"domain": [-24, 389], "range": [106, 2], "nice": false, "zero": false, "clamp": true}, "axis": null},
        "y2": {"datum": 389}
      }
    }
  ]
},
{
  "width": 437, "height": 126,
  "data": {"name": "right"},
  "mark": {"type": "line", "strokeWidth": 1},
  "encoding": {
    "x": {"field": "t", "type": "quantitative", "scale": {"domain": [0, 26], "nice": false, "zero": false}, "axis": {"values": [0, 5, 10, 15, 20, 25], "title": "Time (s)", "titlePadding": 0}},
    "y": {"field": "f", "type": "quantitative", "scale": {"domain": [-54, 1134], "nice": false, "zero": false}, "axis": {"values": [0, 200, 400, 600, 800, 1000], "title": "Force (N)"}},
    "color": {"field": "s", "type": "nominal", "scale": {"domain": ["Sensor right Z", "Predicted right Z"], "range": ["#1f77b4", "#ff7f0e"]}, "legend": {"orient": "none", "legendX": 322, "legendY": 92}},
    "strokeDash": {"field": "s", "type": "nominal", "scale": {"domain": ["Sensor right Z", "Predicted right Z"], "range": [[1, 0], [2.5, 1.5]]}, "legend": {"orient": "none", "legendX": 322, "legendY": 92}}
  }
}
]
}
